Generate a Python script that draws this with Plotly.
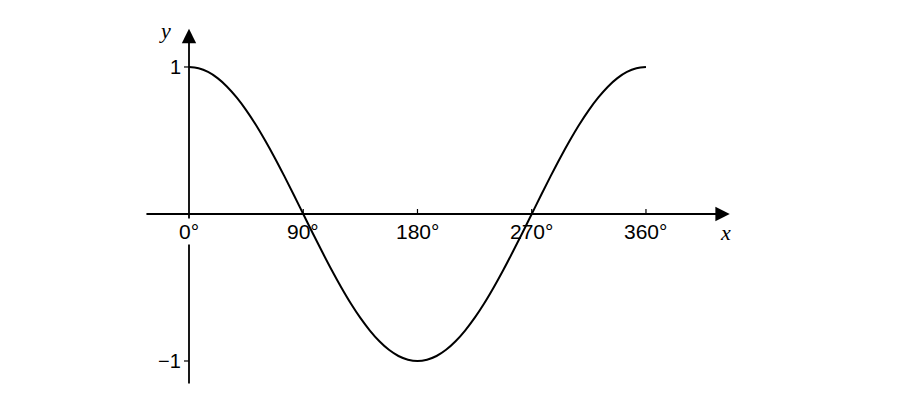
import plotly.graph_objects as go

# 曲线读数 (每 7.5°)
angle_deg = [0, 7.5, 15, 22.5, 30, 37.5, 45, 52.5, 60, 67.5, 75, 82.5, 90,
             97.5, 105, 112.5, 120, 127.5, 135, 142.5, 150, 157.5, 165, 172.5, 180,
             187.5, 195, 202.5, 210, 217.5, 225, 232.5, 240, 247.5, 255, 262.5, 270,
             277.5, 285, 292.5, 300, 307.5, 315, 322.5, 330, 337.5, 345, 352.5, 360]
y_values = [1.000, 0.991, 0.966, 0.924, 0.866, 0.793, 0.707, 0.609, 0.500, 0.383, 0.259, 0.131, 0.000,
            -0.131, -0.259, -0.383, -0.500, -0.609, -0.707, -0.793, -0.866, -0.924, -0.966, -0.991, -1.000,
            -0.991, -0.966, -0.924, -0.866, -0.793, -0.707, -0.609, -0.500, -0.383, -0.259, -0.131, 0.000,
            0.131, 0.259, 0.383, 0.500, 0.609, 0.707, 0.793, 0.866, 0.924, 0.966, 0.991, 1.000]

x_ticks = [0, 90, 180, 270, 360]
x_tick_text = ["0°", "90°", "180°", "270°", "360°"]
y_ticks = [1, -1]
y_tick_text = ["1", "\u22121"]

# 坐标轴端点 (数据坐标)
X_AXIS_START, X_AXIS_END = -34.7, 426.0
Y_AXIS_START, Y_AXIS_END = -1.163, 1.26

LABEL_FONT = dict(family="Liberation Sans, Arial", size=21, color="black")
YLABEL_FONT = dict(family="Liberation Sans, Arial", size=20, color="black")
VAR_FONT = dict(family="Liberation Serif, Times New Roman", size=22, color="black")

fig = go.Figure()

fig.add_trace(go.Scatter(
    x=angle_deg, y=y_values, mode="lines",
    line=dict(color="black", width=2, shape="spline", smoothing=1),
    hoverinfo="skip", showlegend=False
))

annotations = []
# x 轴 / y 轴 (带箭头)
annotations.append(dict(
    x=X_AXIS_END, y=0, ax=X_AXIS_START, ay=0, xref="x", yref="y", axref="x", ayref="y",
    text="", showarrow=True, arrowhead=2, arrowsize=1.6, arrowwidth=1.8, arrowcolor="black"
))
annotations.append(dict(
    x=0, y=Y_AXIS_END, ax=0, ay=Y_AXIS_START, xref="x", yref="y", axref="x", ayref="y",
    text="", showarrow=True, arrowhead=2, arrowsize=1.6, arrowwidth=1.8, arrowcolor="black"
))

# x 刻度标签
for v, t in zip(x_ticks, x_tick_text):
    annotations.append(dict(
        x=v, y=0, xref="x", yref="y", text=t, showarrow=False,
        yanchor="middle", yshift=-18, font=LABEL_FONT,
        bgcolor="white" if v == 0 else None
    ))

# y 刻度标签
for v, t in zip(y_ticks, y_tick_text):
    annotations.append(dict(
        x=0, y=v, xref="x", yref="y", text=t, showarrow=False,
        xanchor="right", xshift=-6, font=YLABEL_FONT
    ))

# 变量名
annotations.append(dict(x=0, y=1.25, xref="x", yref="y", text="<i>y</i>", showarrow=False,
                        xshift=-24, font=VAR_FONT))
annotations.append(dict(x=426, y=0, xref="x", yref="y", text="<i>x</i>", showarrow=False,
                        xshift=-4, yshift=-19, font=VAR_FONT))

# 刻度短线
shapes = []
for v in x_ticks[1:]:
    shapes.append(dict(type="line", xref="x", yref="y", x0=v, x1=v,
                       ysizemode="pixel", yanchor=0, y0=0, y1=5,
                       line=dict(color="black", width=1.2)))
for v in y_ticks:
    shapes.append(dict(type="line", xref="x", yref="y", y0=v, y1=v,
                       xsizemode="pixel", xanchor=0, x0=-5, x1=0,
                       line=dict(color="black", width=1.2)))

fig.update_layout(
    width=903, height=416,
    margin=dict(l=92, r=111, t=4, b=22),
    paper_bgcolor="white", plot_bgcolor="white",
    annotations=annotations, shapes=shapes,
    showlegend=False
)
fig.update_xaxes(range=[-70.11, 481.34], visible=False)
fig.update_yaxes(range=[-1.279, 1.374], visible=False)

fig.write_html("out.html")
